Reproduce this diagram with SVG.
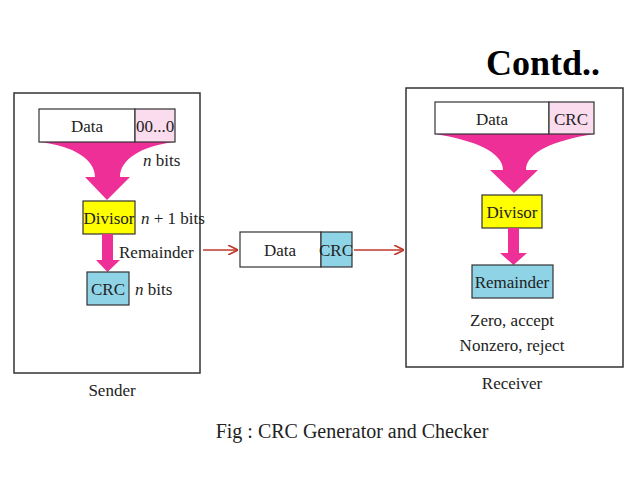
<svg xmlns="http://www.w3.org/2000/svg" width="638" height="478" viewBox="0 0 638 478">
<style>
text{font-family:"Liberation Serif",serif;fill:#222;}
.frame{fill:#fff;stroke:#333;stroke-width:1.5}
.b{stroke:#333;stroke-width:1.2}
.pk{fill:#ee2f97}
.t{font-size:17px;text-anchor:middle}
.i{font-style:italic}
</style>
<defs>
<marker id="ah" markerWidth="10" markerHeight="10" refX="9" refY="5" orient="auto" markerUnits="userSpaceOnUse"><path d="M0,0 L10,5 L0,10" fill="none" stroke="#c0392b" stroke-width="1.6"/></marker>
</defs>
<rect width="638" height="478" fill="#fff"/>
<text x="600" y="75" font-size="36" font-weight="bold" text-anchor="end" style="fill:#000">Contd..</text>

<g id="sender">
<rect class="frame" x="14" y="93" width="186" height="280"/>
<path class="pk" d="M39,142 H175 C140,146 120,160 120,177 H130 L107,200 L85,177 H95 C95,160 75,146 39,142 Z"/>
<rect class="b" x="39" y="109" width="96" height="33" fill="#fff"/>
<rect class="b" x="135" y="109" width="40" height="33" fill="#fadcee"/>
<text class="t" x="87" y="132">Data</text>
<text class="t" x="155" y="132">00...0</text>
<text x="143" y="166" font-size="17"><tspan class="i">n</tspan> bits</text>
<rect class="b" x="83" y="201" width="52" height="33" fill="#ffff00"/>
<text class="t" x="109" y="224">Divisor</text>
<text x="141" y="224" font-size="17"><tspan class="i">n</tspan> + 1 bits</text>
<path class="pk" d="M102,234 H113 V260 H120 L107.5,272 L96,260 H102 Z"/>
<text x="119" y="258" font-size="17">Remainder</text>
<rect class="b" x="87" y="272" width="42" height="33" fill="#8fd3e6"/>
<text class="t" x="108" y="295">CRC</text>
<text x="135" y="295" font-size="17"><tspan class="i">n</tspan> bits</text>
<text class="t" x="112" y="396">Sender</text>
</g>

<g id="packet">
<rect class="b" x="240" y="232" width="81" height="35" fill="#fff"/>
<rect class="b" x="321" y="232" width="31" height="35" fill="#8fd3e6"/>
<text class="t" x="280" y="256">Data</text>
<text class="t" x="336" y="256">CRC</text>
</g>

<g id="receiver">
<rect class="frame" x="406" y="88" width="217" height="279"/>
<path class="pk" d="M435,134 H594 C555,140 526,152 526,170 H538 L514,193 L490,170 H503 C503,152 474,140 435,134 Z"/>
<rect class="b" x="435" y="102" width="114" height="32" fill="#fff"/>
<rect class="b" x="549" y="102" width="45" height="32" fill="#fadcee"/>
<text class="t" x="492" y="125">Data</text>
<text class="t" x="571" y="125">CRC</text>
<rect class="b" x="482" y="195" width="60" height="33" fill="#ffff00"/>
<text class="t" x="512" y="218">Divisor</text>
<path class="pk" d="M508,228 H519 V253 H527 L513.5,265 L500,253 H508 Z"/>
<rect class="b" x="472" y="265" width="81" height="33" fill="#8fd3e6"/>
<text class="t" x="512" y="288">Remainder</text>
<text class="t" x="512" y="326" font-size="18">Zero, accept</text>
<text class="t" x="512" y="351" font-size="18">Nonzero, reject</text>
<text class="t" x="512" y="389">Receiver</text>
</g>

<g id="connectors" stroke="#c0392b" stroke-width="1.6" fill="none">
<line x1="203" y1="250" x2="237" y2="250" marker-end="url(#ah)"/>
<line x1="354" y1="250" x2="403" y2="250" marker-end="url(#ah)"/>
</g>

<text x="352" y="438" font-size="20" text-anchor="middle">Fig : CRC Generator and Checker</text>
</svg>
